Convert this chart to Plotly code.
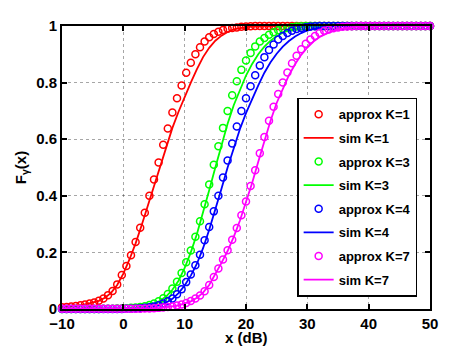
import numpy as np
import plotly.graph_objects as go

# Sampling grids in dB: markers every 0.75 dB, simulated curves every 1 dB
approx_x = np.linspace(-10, 50, 81)
sim_x = np.linspace(-10, 50, 61)

# CDF values of the approximation (markers)
approx_k1 = [
    0.006, 0.007, 0.009, 0.011, 0.013, 0.016, 0.019, 0.023, 0.029, 0.037,
    0.049, 0.064, 0.087, 0.12, 0.152, 0.19, 0.237, 0.287, 0.34, 0.40,
    0.458, 0.518, 0.58, 0.638, 0.694, 0.745, 0.79, 0.835, 0.87, 0.90,
    0.925, 0.945, 0.96, 0.972, 0.98, 0.986, 0.99, 0.993, 0.995, 0.997,
    0.998, 0.999, 1.0, 1.0, 1.0, 1.0, 1.0, 1.0, 1.0, 1.0,
    1.0, 1.0, 1.0, 1.0, 1.0, 1.0, 1.0, 1.0, 1.0, 1.0,
    1.0, 1.0, 1.0, 1.0, 1.0, 1.0, 1.0, 1.0, 1.0, 1.0,
    1.0, 1.0, 1.0, 1.0, 1.0, 1.0, 1.0, 1.0, 1.0, 1.0,
    1.0,
]
approx_k3 = [
    0.0, 0.0, 0.0, 0.0, 0.0, 0.0, 0.0, 0.0, 0.0, 0.001,
    0.001, 0.001, 0.002, 0.002, 0.003, 0.004, 0.005, 0.007, 0.01, 0.014,
    0.019, 0.027, 0.038, 0.053, 0.072, 0.096, 0.127, 0.165, 0.207, 0.255,
    0.31, 0.37, 0.44, 0.51, 0.575, 0.64, 0.70, 0.755, 0.805, 0.845,
    0.878, 0.905, 0.928, 0.945, 0.958, 0.969, 0.978, 0.985, 0.99, 0.993,
    0.996, 0.998, 0.999, 1.0, 1.0, 1.0, 1.0, 1.0, 1.0, 1.0,
    1.0, 1.0, 1.0, 1.0, 1.0, 1.0, 1.0, 1.0, 1.0, 1.0,
    1.0, 1.0, 1.0, 1.0, 1.0, 1.0, 1.0, 1.0, 1.0, 1.0,
    1.0,
]
approx_k4 = [
    0.0, 0.0, 0.0, 0.0, 0.0, 0.0, 0.0, 0.0, 0.0, 0.0,
    0.0, 0.0, 0.0, 0.0, 0.001, 0.001, 0.002, 0.003, 0.004, 0.006,
    0.009, 0.013, 0.019, 0.027, 0.037, 0.052, 0.07, 0.095, 0.122, 0.155,
    0.192, 0.243, 0.29, 0.345, 0.40, 0.465, 0.525, 0.585, 0.645, 0.70,
    0.745, 0.787, 0.826, 0.86, 0.89, 0.915, 0.935, 0.952, 0.965, 0.975,
    0.983, 0.989, 0.993, 0.996, 0.998, 0.999, 1.0, 1.0, 1.0, 1.0,
    1.0, 1.0, 1.0, 1.0, 1.0, 1.0, 1.0, 1.0, 1.0, 1.0,
    1.0, 1.0, 1.0, 1.0, 1.0, 1.0, 1.0, 1.0, 1.0, 1.0,
    1.0,
]
approx_k7 = [
    0.001, 0.001, 0.001, 0.001, 0.001, 0.001, 0.001, 0.001, 0.001, 0.001,
    0.001, 0.001, 0.001, 0.001, 0.001, 0.001, 0.001, 0.001, 0.002, 0.002,
    0.003, 0.004, 0.005, 0.007, 0.009, 0.012, 0.016, 0.021, 0.028, 0.037,
    0.048, 0.063, 0.085, 0.113, 0.143, 0.175, 0.208, 0.245, 0.286, 0.331,
    0.38, 0.435, 0.49, 0.55, 0.608, 0.665, 0.715, 0.76, 0.80, 0.836,
    0.868, 0.895, 0.918, 0.937, 0.952, 0.965, 0.975, 0.983, 0.988, 0.992,
    0.995, 0.997, 0.998, 0.999, 1.0, 1.0, 1.0, 1.0, 1.0, 1.0,
    1.0, 1.0, 1.0, 1.0, 1.0, 1.0, 1.0, 1.0, 1.0, 1.0,
    1.0,
]

# CDF values from simulation (solid curves)
sim_k1 = [
    0.006, 0.008, 0.010, 0.013, 0.017, 0.022, 0.029, 0.04, 0.057, 0.085,
    0.125, 0.175, 0.232, 0.297, 0.367, 0.437, 0.505, 0.575, 0.64, 0.697,
    0.75, 0.80, 0.848, 0.89, 0.923, 0.948, 0.966, 0.979, 0.988, 0.993,
    0.996, 0.998, 0.999, 1.0, 1.0, 1.0, 1.0, 1.0, 1.0, 1.0,
    1.0, 1.0, 1.0, 1.0, 1.0, 1.0, 1.0, 1.0, 1.0, 1.0,
    1.0, 1.0, 1.0, 1.0, 1.0, 1.0, 1.0, 1.0, 1.0, 1.0,
    1.0,
]
sim_k3 = [
    0.0, 0.0, 0.0, 0.0, 0.0, 0.0, 0.0, 0.0, 0.001, 0.001,
    0.002, 0.003, 0.005, 0.008, 0.012, 0.018, 0.029, 0.045, 0.068, 0.1,
    0.145, 0.2, 0.265, 0.34, 0.42, 0.5, 0.58, 0.655, 0.72, 0.775,
    0.825, 0.866, 0.9, 0.927, 0.948, 0.964, 0.976, 0.985, 0.991, 0.995,
    0.997, 0.999, 1.0, 1.0, 1.0, 1.0, 1.0, 1.0, 1.0, 1.0,
    1.0, 1.0, 1.0, 1.0, 1.0, 1.0, 1.0, 1.0, 1.0, 1.0,
    1.0,
]
sim_k4 = [
    0.0, 0.0, 0.0, 0.0, 0.0, 0.0, 0.0, 0.0, 0.0, 0.0,
    0.0, 0.001, 0.002, 0.003, 0.005, 0.009, 0.014, 0.023, 0.036, 0.056,
    0.083, 0.118, 0.16, 0.215, 0.28, 0.35, 0.425, 0.5, 0.57, 0.635,
    0.692, 0.743, 0.79, 0.835, 0.872, 0.902, 0.927, 0.947, 0.963, 0.975,
    0.984, 0.99, 0.994, 0.997, 0.999, 1.0, 1.0, 1.0, 1.0, 1.0,
    1.0, 1.0, 1.0, 1.0, 1.0, 1.0, 1.0, 1.0, 1.0, 1.0,
    1.0,
]
sim_k7 = [
    0.001, 0.001, 0.001, 0.001, 0.001, 0.001, 0.001, 0.001, 0.001, 0.001,
    0.001, 0.001, 0.001, 0.002, 0.002, 0.003, 0.004, 0.006, 0.009, 0.013,
    0.019, 0.027, 0.04, 0.058, 0.085, 0.122, 0.163, 0.205, 0.255, 0.312,
    0.375, 0.445, 0.52, 0.595, 0.665, 0.728, 0.78, 0.826, 0.865, 0.898,
    0.924, 0.945, 0.961, 0.973, 0.982, 0.988, 0.992, 0.995, 0.997, 0.998,
    0.999, 1.0, 1.0, 1.0, 1.0, 1.0, 1.0, 1.0, 1.0, 1.0,
    1.0,
]

k_labels = ["K=1", "K=3", "K=4", "K=7"]
colors = ["#ff0000", "#00ff00", "#0000ff", "#ff00ff"]
approx_sets = [approx_k1, approx_k3, approx_k4, approx_k7]
sim_sets = [sim_k1, sim_k3, sim_k4, sim_k7]

x_ticks = [-10, 0, 10, 20, 30, 40, 50]
y_ticks = [0, 0.2, 0.4, 0.6, 0.8, 1]
y_tick_text = ["0", "0.2", "0.4", "0.6", "0.8", "1"]

FONT = "Liberation Sans"
title_font = dict(family=FONT, size=15, color="black", weight="bold")

fig = go.Figure()
for i, (lab, col, a_vals, s_vals) in enumerate(zip(k_labels, colors, approx_sets, sim_sets)):
    fig.add_trace(go.Scatter(
        x=approx_x, y=a_vals, mode="markers", name=f"approx {lab}",
        legendgroup=f"a{i}", cliponaxis=False,
        marker=dict(symbol="circle-open", size=7, color=col,
                    line=dict(width=1.5, color=col)),
    ))
    fig.add_trace(go.Scatter(
        x=sim_x, y=s_vals, mode="lines", name=f"sim {lab}",
        legendgroup=f"s{i}", cliponaxis=False,
        line=dict(color=col, width=1.8),
    ))

axis_common = dict(
    showline=True, linewidth=2, linecolor="black", mirror="ticks",
    ticks="inside", ticklen=5, tickwidth=1.5, tickcolor="black",
    showgrid=True, gridcolor="rgba(0,0,0,0.35)", gridwidth=1, griddash="dot",
    zeroline=False, automargin=False,
    tickfont=dict(family=FONT, size=15, color="black", weight="bold"),
)

fig.update_layout(
    width=474, height=348,
    margin=dict(l=62, r=44, t=26, b=39),
    paper_bgcolor="white", plot_bgcolor="white",
    xaxis=dict(range=[-10, 50], tickvals=x_ticks, **axis_common),
    yaxis=dict(range=[0, 1], tickvals=y_ticks, ticktext=y_tick_text,
               title=dict(text="F<sub>γ</sub>(x)", standoff=6, font=title_font),
               **axis_common),
    legend=dict(
        x=0.639, y=0.746, xanchor="left", yanchor="top",
        bgcolor="white", bordercolor="black", borderwidth=1.5,
        font=dict(family=FONT, size=13, color="black", weight="bold"),
        tracegroupgap=3.7, itemwidth=30,
    ),
    showlegend=True,
    annotations=[dict(
        text="x (dB)", xref="paper", yref="paper", x=0.5, y=-0.101,
        xanchor="center", yanchor="middle", showarrow=False, font=title_font,
    )],
)

fig.write_html("out.html")
